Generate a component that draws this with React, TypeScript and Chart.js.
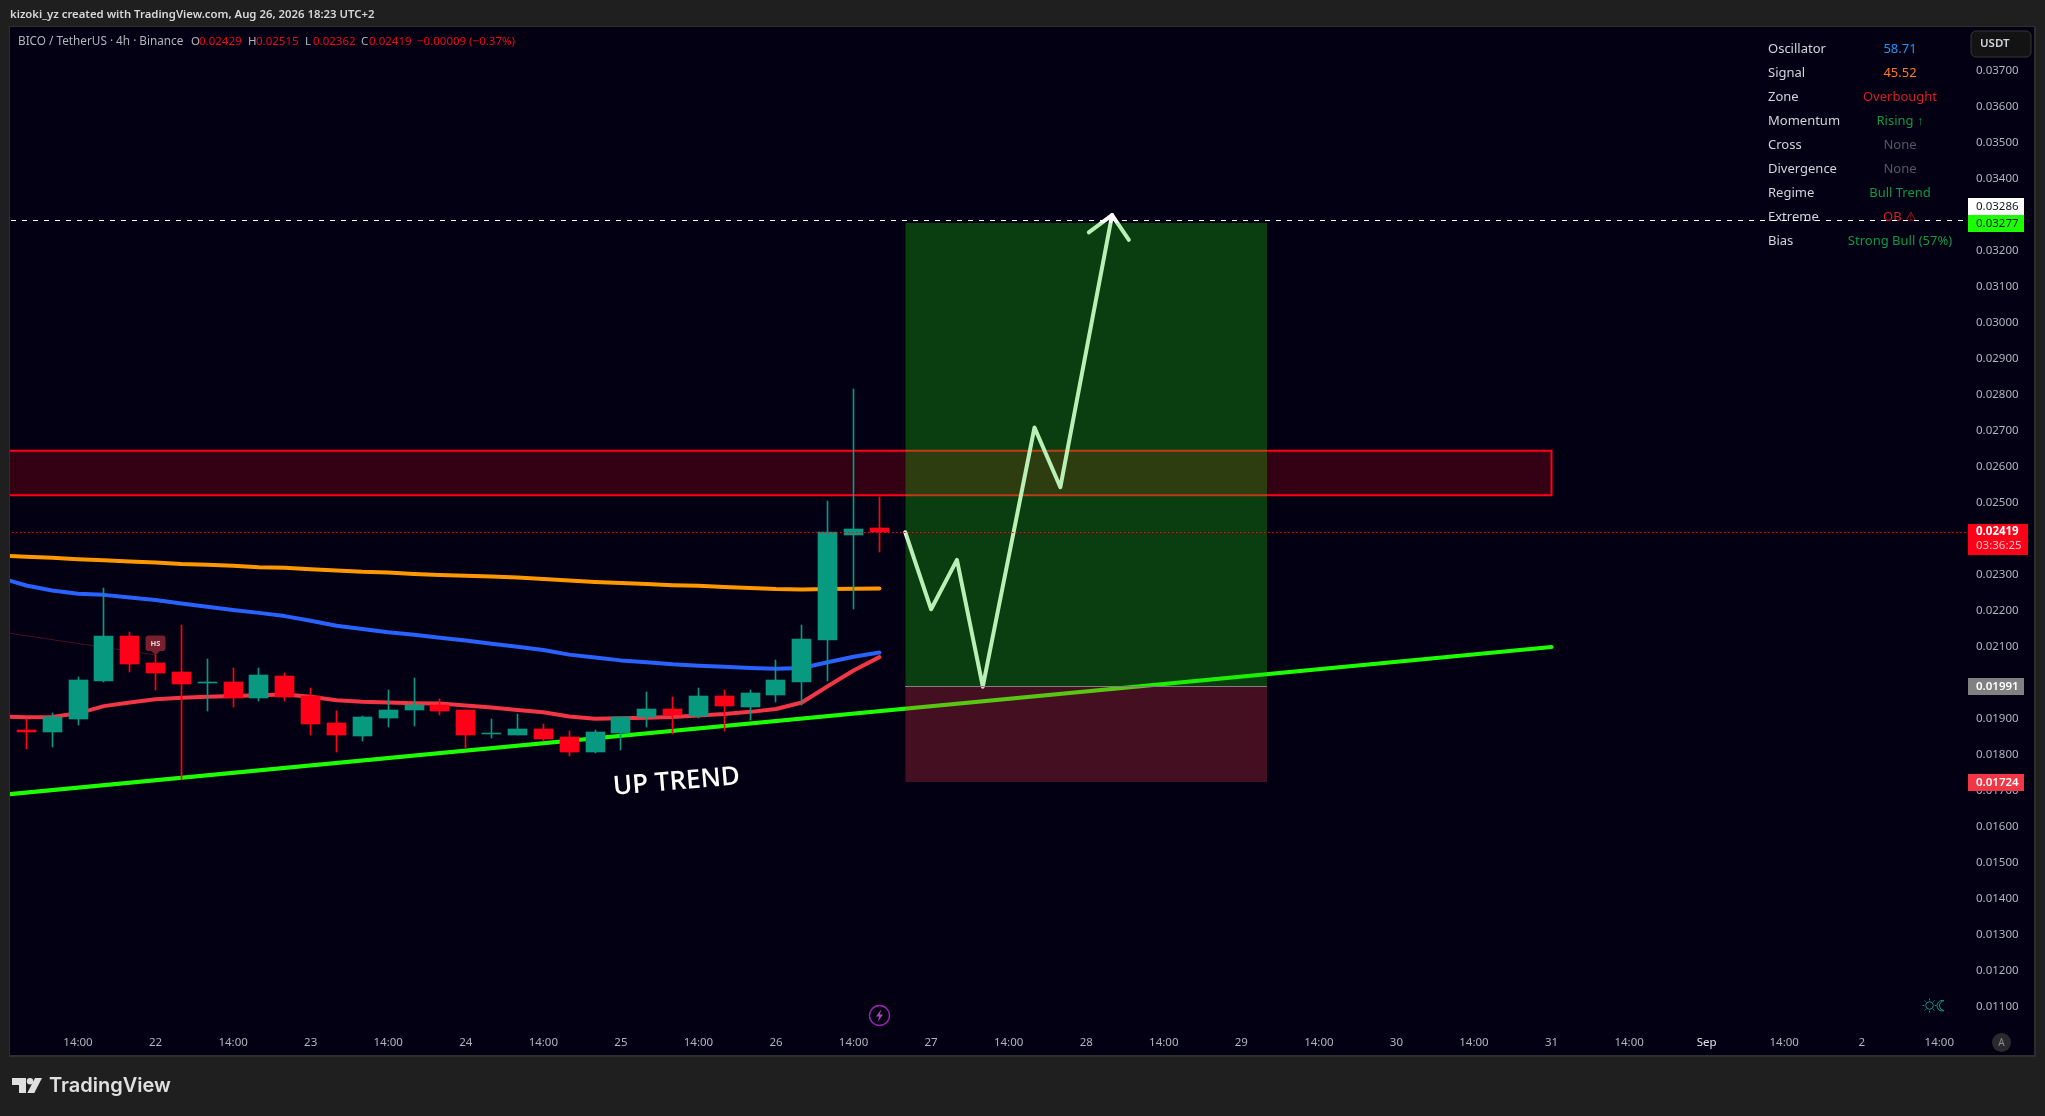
import React, { useEffect, useRef } from "react";
import { Chart, registerables } from "chart.js";

Chart.register(...registerables);

// ---------- data ----------
const candleOpen = [0.01869,0.01863,0.01899,0.02005,0.0213,0.02055,0.0203,0.01999,0.02002,0.01958,0.02019,0.01963,0.01888,0.01852,0.01902,0.01924,0.01938,0.01924,0.01858,0.01855,0.01871,0.01849,0.01808,0.0186,0.01905,0.01927,0.01908,0.01963,0.01933,0.01966,0.02002,0.02119,0.0241,0.02429];
const candleClose = [0.01863,0.01905,0.02008,0.0213,0.02052,0.02027,0.01996,0.02002,0.01958,0.02021,0.0196,0.01885,0.01855,0.01905,0.01924,0.01938,0.01921,0.01855,0.0186,0.01871,0.01844,0.01808,0.01863,0.01905,0.01927,0.0191,0.01963,0.01935,0.01971,0.02008,0.02121,0.02419,0.02426,0.02419];
const candleHigh = [0.01899,0.01916,0.02016,0.02263,0.02141,0.02077,0.0216,0.02066,0.02041,0.02041,0.02027,0.01985,0.01921,0.01908,0.0198,0.02013,0.01955,0.01924,0.01899,0.01913,0.01885,0.01866,0.01869,0.01905,0.01974,0.0196,0.01985,0.0198,0.0198,0.02063,0.0216,0.02505,0.02816,0.02515];
const candleLow = [0.01816,0.01821,0.01883,0.02002,0.0203,0.0198,0.0173,0.01921,0.01933,0.01949,0.01949,0.01855,0.01808,0.01838,0.01877,0.0188,0.0191,0.01819,0.01846,0.01855,0.01838,0.01796,0.01805,0.01813,0.01877,0.01858,0.01902,0.01866,0.01896,0.01946,0.01938,0.02005,0.02206,0.02362];

// moving averages; the first value belongs to the bar before the first candle
const maOrange = [0.02353,0.0235,0.02347,0.02343,0.0234,0.02337,0.02334,0.0233,0.02328,0.02325,0.02321,0.02319,0.02315,0.02312,0.02308,0.02306,0.02302,0.02299,0.02297,0.02295,0.02292,0.02288,0.02284,0.0228,0.02277,0.02274,0.02271,0.02269,0.02266,0.02263,0.0226,0.02259,0.0226,0.02261,0.02262];
const maBlue = [0.02291,0.0227,0.02256,0.02247,0.02244,0.02237,0.0223,0.0222,0.02211,0.02202,0.02194,0.02185,0.02172,0.02158,0.02149,0.0214,0.02133,0.02125,0.02117,0.02108,0.021,0.02091,0.02078,0.0207,0.02062,0.02057,0.02051,0.02047,0.02044,0.02041,0.02039,0.02041,0.02057,0.02072,0.02084];
const maRed = [0.01906,0.01904,0.01905,0.01915,0.01935,0.01945,0.01954,0.01958,0.01961,0.01963,0.01965,0.01967,0.01961,0.01951,0.01947,0.01945,0.01943,0.01942,0.01937,0.01931,0.01924,0.01918,0.01906,0.019,0.01901,0.01903,0.01905,0.01909,0.01913,0.01919,0.01927,0.01945,0.0199,0.02034,0.02071];

const trendX = [-1, 59];
const trendY = [0.01688, 0.02099];
const patternX = [-1, 5];
const patternY = [0.02141, 0.02077];
const zoneX = [-1, 59];
const zoneTop = 0.02644;
const zoneBottom = 0.02521;
const boxX = [34, 48];
const targetPrice = 0.03277;
const upperTagPrice = 0.03286;
const entryPrice = 0.01991;
const stopPrice = 0.01724;
const lastPrice = 0.02419;
const dashedPrice = 0.03285;
const forecastX = [34, 35, 36, 37, 39, 40, 42];
const forecastY = [0.02418, 0.02204, 0.02341, 0.01989, 0.02709, 0.02543, 0.03299];
const arrowX = [41.1, 42, 42.65];
const arrowY = [0.03251, 0.03299, 0.0323];

const priceTicks = [0.011,0.012,0.013,0.014,0.015,0.016,0.017,0.018,0.019,0.02,0.021,0.022,0.023,0.024,0.025,0.026,0.027,0.028,0.029,0.03,0.031,0.032,0.033,0.034,0.035,0.036,0.037];
const timePositions = [2,5,8,11,14,17,20,23,26,29,32,35,38,41,44,47,50,53,56,59,62,65,68,71,74];
const timeLabels = ["14:00","22","14:00","23","14:00","24","14:00","25","14:00","26","14:00","27","14:00","28","14:00","29","14:00","30","14:00","31","14:00","Sep","14:00","2","14:00"];

const tableLabels = ["Oscillator","Signal","Zone","Momentum","Cross","Divergence","Regime","Extreme","Bias"];
const tableValues = ["58.71","45.52","Overbought","Rising ↑","None","None","Bull Trend","OB ⚠","Strong Bull (57%)"];
const tableColors = ["#2196f3","#ff7a1a","#d81e25","#0b9a46","#565863","#565863","#0b9a46","#d81e25","#0b9a46"];

const headerText = "kizoki_yz created with TradingView.com, Aug 26, 2026 18:23 UTC+2";
const symbolText = "BICO / TetherUS · 4h · Binance";
const ohlcNames = ["O","H","L","C"];
const ohlcValues = ["0.02429","0.02515","0.02362","0.02419"];
const changeText = "−0.00009 (−0.37%)";

// ---------- styles ----------
const W = 2045, H = 1116;
const FONT = '"Noto Sans", sans-serif';
const PANE_BG = "#020012";
const PAGE_BG = "#1f1f1f";
const UP = "#089981";
const DOWN = "#ff0018";

const line = (xs: number[], ys: number[], color: string, width: number, order: number, extra: any = {}) => ({
  type: "line",
  data: xs.map((x, i) => ({ x, y: ys[i] })),
  borderColor: color,
  borderWidth: width,
  pointRadius: 0,
  tension: 0,
  fill: false,
  order,
  borderCapStyle: "round",
  borderJoinStyle: "round",
  ...extra,
});

const idx = candleOpen.map((_, i) => i);
const maX = [-1, ...idx];

function txt(ctx: any, s: string, x: number, y: number, font: string, color: string, align = "left") {
  ctx.font = font;
  ctx.fillStyle = color;
  ctx.textAlign = align;
  ctx.textBaseline = "middle";
  ctx.fillText(s, x, y);
}

function priceTag(ctx: any, price: number, y: number, bg: string, fg: string, bold = false) {
  ctx.fillStyle = bg;
  ctx.fillRect(1968, y - 8.5, 56, 17);
  txt(ctx, price.toFixed(5), 1976, y, `${bold ? "600 " : ""}11.5px ${FONT}`, fg);
}

const deg = (d: number) => (d * Math.PI) / 180;

const paintPlugin = {
  id: "paint",
  afterDatasetsUpdate(chart: any) {
    // keep candles and horizontal rules crisp, as a trading chart draws them
    chart.data.datasets.forEach((d: any, i: number) => {
      const els = chart.getDatasetMeta(i).data;
      if (d.type === "bar") {
        els.forEach((el: any) => {
          el.x = Math.floor(el.x) + 0.5;
          el.y = Math.round(el.y);
          el.base = Math.round(el.base);
        });
      } else if (d.crisp) {
        els.forEach((el: any) => {
          el.x = Math.round(el.x);
          el.y = Math.round(el.y) + 0.5;
        });
      }
    });
  },
  beforeDraw(chart: any) {
    const { ctx } = chart;
    ctx.save();
    ctx.fillStyle = PAGE_BG;
    ctx.fillRect(0, 0, W, H);
    ctx.fillStyle = "#2e2e2e";
    ctx.fillRect(9, 26, 2027, 1031);
    ctx.fillStyle = PANE_BG;
    ctx.fillRect(10, 27, 2024, 1028);
    ctx.restore();
  },
  beforeDatasetsDraw(chart: any) {
    const { ctx } = chart;
    ctx.save();
    // status table
    tableLabels.forEach((l, i) => {
      const y = 49 + i * 24;
      txt(ctx, l, 1768, y, `13px ${FONT}`, "#d1d4dc");
      txt(ctx, tableValues[i], 1900, y, `13px ${FONT}`, tableColors[i], "center");
    });
    ctx.restore();
  },
  afterDraw(chart: any) {
    const { ctx, scales } = chart;
    const xS = scales.x, yS = scales.y;
    ctx.save();

    // page header
    txt(ctx, headerText, 10, 15, `600 11.35px ${FONT}`, "#d8d8d8");

    // symbol legend
    txt(ctx, symbolText, 18, 42, `11.75px ${FONT}`, "#b2b5be");
    const nameX = [191, 248, 305, 361];
    ohlcNames.forEach((n, i) => {
      txt(ctx, n, nameX[i], 42, `11.5px ${FONT}`, "#b2b5be");
      txt(ctx, ohlcValues[i], nameX[i] + 8, 42, `11.5px ${FONT}`, "#f0051e");
    });
    txt(ctx, changeText, 417, 42, `11.5px ${FONT}`, "#f0051e");

    // price tags
    const ly = Math.round(yS.getPixelForValue(lastPrice));
    ctx.fillStyle = DOWN;
    ctx.fillRect(1968, ly - 8, 60, 31);
    txt(ctx, lastPrice.toFixed(5), 1976, ly, `700 11.5px ${FONT}`, "#ffffff");
    txt(ctx, "03:36:25", 1976, ly + 14, `11.5px ${FONT}`, "#ffc0c6");
    priceTag(ctx, entryPrice, Math.round(yS.getPixelForValue(entryPrice)) + 0.5, "#808080", "#ffffff", true);
    priceTag(ctx, stopPrice, Math.round(yS.getPixelForValue(stopPrice)) + 0.5, "#f23645", "#ffffff", true);
    const ty = Math.round(yS.getPixelForValue(targetPrice)) + 0.5;
    priceTag(ctx, targetPrice, ty, "#1cff00", "#131722");
    priceTag(ctx, upperTagPrice, ty - 17, "#ffffff", "#131722");

    // currency button
    ctx.fillStyle = "#131313";
    ctx.strokeStyle = "#363636";
    ctx.lineWidth = 1;
    ctx.beginPath();
    ctx.roundRect(1971, 31, 60, 26, 5);
    ctx.fill();
    ctx.stroke();
    txt(ctx, "USDT", 1980, 44, `600 11.5px ${FONT}`, "#d1d4dc");

    // HS marker
    const hx = Math.floor(xS.getPixelForValue(5)) + 0.5;
    const hy = yS.getPixelForValue(candleHigh[5]);
    ctx.fillStyle = "#7a1f2e";
    ctx.beginPath();
    ctx.roundRect(hx - 10, hy - 19.5, 20, 15.5, 3);
    ctx.fill();
    ctx.beginPath();
    ctx.moveTo(hx - 5, hy - 4.5);
    ctx.lineTo(hx + 5, hy - 4.5);
    ctx.lineTo(hx, hy);
    ctx.closePath();
    ctx.fill();
    txt(ctx, "HS", hx, hy - 11.5, `700 7.5px ${FONT}`, "#e8d8da", "center");

    // UP TREND label
    ctx.save();
    ctx.translate(xS.getPixelForValue(25.15), yS.getPixelForValue(0.01724));
    ctx.rotate(deg(-4.8));
    txt(ctx, "UP TREND", 0, 0, `600 26px "Open Sans", sans-serif`, "#ffffff", "center");
    ctx.restore();

    // lightning icon
    ctx.strokeStyle = "#9c27b0";
    ctx.lineWidth = 1.3;
    ctx.beginPath();
    ctx.arc(879.5, 1015.5, 10, 0, Math.PI * 2);
    ctx.stroke();
    ctx.fillStyle = "#ab47bc";
    ctx.beginPath();
    ctx.moveTo(881.5, 1009);
    ctx.lineTo(876, 1016.5);
    ctx.lineTo(879.3, 1016.5);
    ctx.lineTo(877.5, 1022);
    ctx.lineTo(883, 1014.5);
    ctx.lineTo(879.7, 1014.5);
    ctx.closePath();
    ctx.fill();

    // session icon
    ctx.strokeStyle = UP;
    ctx.lineWidth = 1;
    ctx.beginPath();
    ctx.arc(1929.5, 1005.5, 3.8, 0, Math.PI * 2);
    ctx.stroke();
    for (let a = 0; a < 8; a++) {
      const c = Math.cos((a * Math.PI) / 4), s = Math.sin((a * Math.PI) / 4);
      ctx.beginPath();
      ctx.moveTo(1929.5 + c * 5.2, 1005.5 + s * 5.2);
      ctx.lineTo(1929.5 + c * 7, 1005.5 + s * 7);
      ctx.stroke();
    }
    ctx.beginPath();
    ctx.arc(1942.29, 1005.7, 5.29, deg(71), deg(289));
    ctx.arc(1944.53, 1005.7, 5.03, deg(264), deg(96), true);
    ctx.closePath();
    ctx.stroke();

    // auto-scale button
    ctx.fillStyle = "#2a2a2e";
    ctx.beginPath();
    ctx.arc(2001.5, 1042.5, 9.5, 0, Math.PI * 2);
    ctx.fill();
    txt(ctx, "A", 2001.5, 1043, `10px ${FONT}`, "#8a8a8f", "center");

    // footer brand
    ctx.fillStyle = "#e0e0e0";
    ctx.beginPath();
    ctx.moveTo(12, 1078);
    ctx.lineTo(26, 1078);
    ctx.lineTo(26, 1093);
    ctx.lineTo(19, 1093);
    ctx.lineTo(19, 1085);
    ctx.lineTo(12, 1085);
    ctx.closePath();
    ctx.fill();
    ctx.beginPath();
    ctx.arc(30, 1081.3, 3.2, 0, Math.PI * 2);
    ctx.fill();
    ctx.beginPath();
    ctx.moveTo(35, 1078);
    ctx.lineTo(42, 1078);
    ctx.lineTo(34.3, 1093);
    ctx.lineTo(27.3, 1093);
    ctx.closePath();
    ctx.fill();
    txt(ctx, "TradingView", 49, 1086, `600 20px Inter, sans-serif`, "#e0e0e0");
    ctx.restore();
  },
};

export default function App() {
  const ref = useRef<HTMLCanvasElement>(null);
  useEffect(() => {
    document.body.style.margin = "0";
    document.body.style.background = PAGE_BG;
    const colors = candleOpen.map((o, i) => (candleClose[i] >= o ? UP : DOWN));
    const datasets: any[] = [
      line([-1, 76], [dashedPrice, dashedPrice], "#ffffff", 1, 0, { borderDash: [5, 6], clip: 0, borderCapStyle: "butt", crisp: true }),
      line([-1, 76], [lastPrice, lastPrice], DOWN, 1, 1, { borderDash: [1.5, 2.5], clip: 0, borderCapStyle: "butt", crisp: true }),
      line(boxX, [entryPrice, entryPrice], "#808080", 1, 2, { borderCapStyle: "butt", crisp: true }),
      line(boxX, [targetPrice, targetPrice], "rgba(0,0,0,0)", 0, 3, {
        fill: { value: entryPrice }, backgroundColor: "rgba(30,203,10,0.3)",
      }),
      line(boxX, [entryPrice, entryPrice], "rgba(0,0,0,0)", 0, 4, {
        fill: { value: stopPrice }, backgroundColor: "rgba(242,54,69,0.28)",
      }),
      line(forecastX, forecastY, "#ffffff", 4, 5),
      line(arrowX, arrowY, "#ffffff", 4, 5),
      {
        type: "bar",
        data: idx.map((i) => ({ x: i, y: [candleOpen[i], candleClose[i]] })),
        backgroundColor: colors,
        barThickness: 19,
        grouped: false,
        order: 6,
      },
      {
        type: "bar",
        data: idx.map((i) => ({ x: i, y: [candleLow[i], candleHigh[i]] })),
        backgroundColor: colors,
        barThickness: 1,
        grouped: false,
        order: 7,
      },
      line(maX, maRed, "#f23645", 4, 8),
      line(maX, maBlue, "#2962ff", 4, 9),
      line(maX, maOrange, "#ff9800", 4, 10),
      line(
        [zoneX[0], zoneX[1], zoneX[1], zoneX[0]],
        [zoneTop, zoneTop, zoneBottom, zoneBottom],
        DOWN, 2, 11, { borderCapStyle: "square", borderJoinStyle: "miter" }
      ),
      line(zoneX, [zoneTop, zoneTop], "rgba(0,0,0,0)", 0, 12, {
        fill: { value: zoneBottom }, backgroundColor: "rgba(255,0,24,0.2)",
      }),
      line(trendX, trendY, "#1cff00", 4, 13),
      line(patternX, patternY, "rgba(242,54,69,0.3)", 1, 14),
    ];
    const chart = new Chart(ref.current as any, {
      type: "line",
      data: { datasets },
      plugins: [paintPlugin as any],
      options: {
        animation: false,
        responsive: false,
        devicePixelRatio: 1,
        events: [],
        layout: { padding: { left: 10, right: 11, top: 27, bottom: 61 } },
        plugins: { legend: { display: false }, tooltip: { enabled: false } },
        scales: {
          x: {
            type: "linear",
            offset: false,
            min: -0.6306,
            max: 75.11,
            grid: { display: false, drawTicks: false },
            border: { display: false },
            afterBuildTicks: (s: any) => {
              s.ticks = timePositions.map((value) => ({ value }));
            },
            afterFit: (s: any) => {
              s.height = 25;
            },
            ticks: {
              autoSkip: false,
              maxRotation: 0,
              padding: 6,
              color: (c: any) => (timeLabels[c.index] === "Sep" ? "#e0e3eb" : "#b2b5be"),
              font: { family: FONT, size: 11.5 },
              callback: (_: any, i: number) => timeLabels[i],
            },
          },
          y: {
            type: "linear",
            position: "right",
            min: 0.010353,
            max: 0.038214,
            grid: { display: false, drawTicks: false },
            border: { display: false },
            afterBuildTicks: (s: any) => {
              s.ticks = priceTicks.map((value) => ({ value }));
            },
            afterFit: (s: any) => {
              s.width = 66;
            },
            ticks: {
              autoSkip: false,
              padding: 8,
              color: "#b2b5be",
              font: { family: FONT, size: 11.5 },
              callback: (v: any) => Number(v).toFixed(5),
            },
          },
        },
      } as any,
    } as any);
    return () => chart.destroy();
  }, []);
  return <canvas ref={ref} width={W} height={H} style={{ display: "block", width: W, height: H }} />;
}
